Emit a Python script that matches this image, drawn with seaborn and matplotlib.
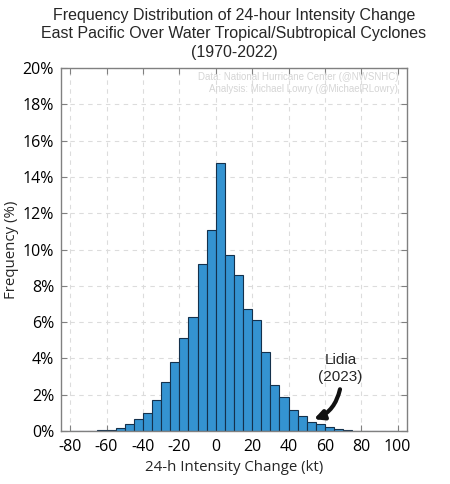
import numpy as np
import pandas as pd
import matplotlib
matplotlib.use("Agg")
import matplotlib.pyplot as plt
import seaborn as sns

# 5-kt bins of 24-h intensity change (left edges) and their frequency (%)
bin_left = [-80, -75, -70, -65, -60, -55, -50, -45, -40, -35, -30, -25,
            -20, -15, -10, -5, 0, 5, 10, 15, 20, 25, 30, 35,
            40, 45, 50, 55, 60, 65, 70, 75, 80, 85, 90, 95]
freq_pct = [0.0, 0.005, 0.02, 0.03, 0.06, 0.16, 0.38, 0.65, 0.97, 1.70, 2.70, 3.78,
            5.10, 6.26, 9.18, 11.07, 14.75, 9.71, 8.58, 6.73, 6.14, 4.37, 2.53, 1.86,
            1.16, 0.85, 0.51, 0.37, 0.22, 0.13, 0.05, 0.02, 0.01, 0.005, 0.0, 0.005]
x_ticks = [-80, -60, -40, -20, 0, 20, 40, 60, 80, 100]
y_ticks = [0, 2, 4, 6, 8, 10, 12, 14, 16, 18, 20]

df = pd.DataFrame({"change": np.array(bin_left) + 2.5, "pct": freq_pct})
edges = list(bin_left) + [bin_left[-1] + 5]

sns.set_style("ticks")
plt.rcParams["font.family"] = ["Open Sans", "DejaVu Sans"]
plt.rcParams["axes.unicode_minus"] = False

fig, ax = plt.subplots(figsize=(4.5, 4.84), dpi=100)
fig.subplots_adjust(left=0.1356, right=0.904, top=0.8595, bottom=0.1095)

sns.histplot(data=df, x="change", weights="pct", bins=edges, ax=ax,
             color="#3493d1", edgecolor="#14314c", linewidth=0.8, alpha=1.0)

ax.set_xlim(-85, 105)
ax.set_ylim(0, 20)
ax.set_xticks(x_ticks)
ax.set_yticks(y_ticks)
ax.set_yticklabels([f"{t}%" for t in y_ticks])
ax.tick_params(direction="in", top=True, right=True, length=4, width=0.8,
               color="#808080", labelsize=11.5, labelcolor="black")
ax.tick_params(axis="x", pad=6)
ax.tick_params(axis="y", pad=5)
for s in ax.spines.values():
    s.set_color("#808080")
    s.set_linewidth(1.0)
ax.grid(True, linestyle=(0, (4, 4)), color="#dcdcdc", linewidth=0.8)
ax.set_axisbelow(True)

ax.set_xlabel("24-h Intensity Change (kt)", fontsize=10.8, labelpad=3)
ax.set_ylabel("Frequency (%)", fontsize=10.8, labelpad=3)
ax.set_title("Frequency Distribution of 24-hour Intensity Change\n"
             "East Pacific Over Water Tropical/Subtropical Cyclones\n"
             "(1970-2022)", fontsize=11.5, family=["Liberation Sans"],
             linespacing=1.3, pad=8)

ax.text(0.975, 0.99, "Data: National Hurricane Center (@NWSNHC)\n"
        "Analysis: Michael Lowry (@MichaelRLowry)", transform=ax.transAxes,
        ha="right", va="top", fontsize=7, color="#d5d5d5",
        family=["Liberation Sans"], linespacing=1.25)

ax.text(68.6, 3.45, "Lidia\n(2023)", ha="center", va="center", fontsize=11,
        family=["Liberation Sans"], linespacing=1.3)
ax.annotate("", xy=(52.5, 0.6), xytext=(68.6, 2.45),
            arrowprops=dict(arrowstyle="-|>", color="#111111", lw=3,
                            mutation_scale=14,
                            connectionstyle="arc3,rad=-0.3"))

fig.savefig("out.png", dpi=100)
